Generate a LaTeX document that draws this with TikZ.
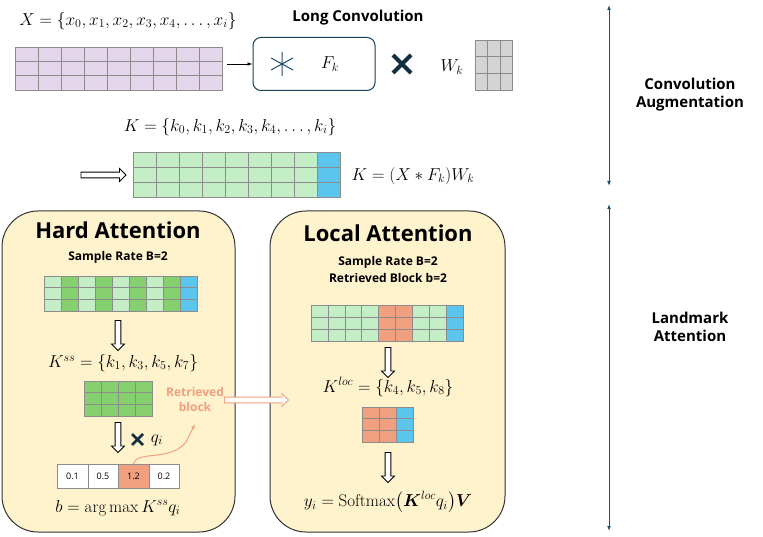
\documentclass[tikz,border=0pt]{standalone}
\usepackage{fontspec}
\usepackage{amsmath}
\newfontfamily\lbl{Open Sans}
\usetikzlibrary{shapes.arrows,arrows.meta}
\definecolor{purp}{HTML}{E4D6EB}
\definecolor{lg}{HTML}{C4EEC6}
\definecolor{dg}{HTML}{86D06F}
\definecolor{bl}{HTML}{5BC5EE}
\definecolor{org}{HTML}{F0A07E}
\definecolor{gr}{HTML}{D4D4D4}
\definecolor{pan}{HTML}{FFF3CE}
\definecolor{teal}{HTML}{1F4E6B}
\definecolor{gline}{HTML}{8C8C8C}
\newcommand{\gridbox}[7]{%
 \foreach \c [count=\i from 0] in {#7} {%
  \foreach \r in {1,...,#6} {%
   \draw[gline, line width=0.6pt, fill=\c] ({#1+\i*#3},{#2+(\r-1)*#4}) rectangle ++(#3,#4);}}}
\tikzset{
 hol/.style={single arrow, draw=black, fill=white, line width=0.8pt, minimum width=13pt, single arrow head extend=3pt, single arrow tip angle=90, inner sep=2pt},
 mth/.style={font=\fontsize{17}{20}\selectfont},
 bt/.style={font=\lbl\bfseries\fontsize{15}{18}\selectfont},
 tt/.style={font=\lbl\bfseries\fontsize{22}{26}\selectfont},
 st/.style={font=\lbl\bfseries\fontsize{12}{17}\selectfont},
 panel/.style={draw=black!80, line width=1pt, fill=pan, rounded corners=36pt},
 vax/.style={teal, line width=1pt, {Latex[length=5pt]}-{Latex[length=5pt]}}
}
\begin{document}
\begin{tikzpicture}[x=1pt,y=-1pt]
\useasboundingbox (0,0) rectangle (763,537);
% top
\node[mth] (xs) at (128,21) {$X=\{x_0,x_1,x_2,x_3,x_4,\ldots,x_i\}$};
\gridbox{15}{47}{23}{14.3}{9}{3}{purp,purp,purp,purp,purp,purp,purp,purp,purp}
\coordinate (xg) at (227,64);
\node[bt] (lc) at (358,18) {Long Convolution};
\node[draw=teal!80!black, line width=1pt, rounded corners=8pt, minimum width=122pt, minimum height=53pt] (conv) at (314,64) {};
\draw[-{Latex[length=5pt]}, line width=0.8pt] (xg) -- (conv.west);
\node (ast) at (282,64) {};
\draw[teal, line width=1pt] (282,52) -- (282,76) (271,58) -- (293,70) (271,70) -- (293,58);
\node[mth] (fk) at (330,64) {$F_k$};
\node (times1) at (402,64) {};
\draw[teal!60!black, line width=4pt] (393,55) -- (411,73) (393,73) -- (411,55);
\node[mth] (wk) at (452,67) {$W_k$};
\gridbox{475}{40}{12.4}{16.7}{3}{3}{gr,gr,gr}
\node[mth] (ks) at (230,127) {$K=\{k_0,k_1,k_2,k_3,k_4,\ldots,k_i\}$};
\node[hol, minimum height=45pt] (ar0) at (102,175) {};
\gridbox{133}{152}{23}{15}{9}{3}{lg,lg,lg,lg,lg,lg,lg,lg,bl}
\node[mth] (kf) at (413,176) {$K=(X*F_k)W_k$};
\node (t1a) at (609,5) {}; \node (t1b) at (609,186) {};
\draw[vax] (t1a.center) -- (t1b.center);
\node[bt, align=center] (ca) at (690,95) {Convolution\\Augmentation};
\node (t2a) at (609,204) {}; \node (t2b) at (609,531) {};
\draw[vax] (t2a.center) -- (t2b.center);
\node[bt, align=center] (la) at (690,327) {Landmark\\Attention};
% Hard attention panel
\draw[panel] (2,211) rectangle (235,532);
\node[tt] (ha) at (118,230) {Hard Attention};
\node[st] (sr1) at (118,257) {Sample Rate B=2};
\gridbox{44}{276}{17}{11.7}{9}{3}{lg,dg,lg,dg,lg,dg,lg,dg,bl}
\node[hol, rotate=-90, minimum height=30pt] (a1) at (118,334) {};
\node[mth] (kss) at (123,363) {$K^{ss}=\{k_1,k_3,k_5,k_7\}$};
\gridbox{84}{381}{17}{11.7}{4}{3}{dg,dg,dg,dg}
\node[hol, rotate=-90, minimum height=30pt] (a2) at (118,436) {};
\draw[teal!60!black, line width=2.5pt] (132,434) -- (143,445) (132,445) -- (143,434);
\node[mth] (qi) at (157,440) {$q_i$};
\foreach \v/\c [count=\i from 0] in {0.1/white,0.5/white,1.2/org,0.2/white}
  \node[draw=gline, fill=\c, minimum width=30.5pt, minimum height=24pt, inner sep=0pt, font=\lbl\small, anchor=north west] (v\i) at ({57+\i*30.5},464) {\v};
\node[mth] (bf) at (118,508) {$b=\arg\max K^{ss}q_i$};
% Local attention panel
\draw[panel] (270,211) rectangle (505,532);
\node[tt] (loc) at (388,233) {Local Attention};
\node[st, align=center] (sr2) at (388,270) {Sample Rate B=2\\Retrieved Block b=2};
\gridbox{311}{305}{16.9}{12}{9}{3}{lg,lg,lg,lg,org,org,lg,lg,bl}
\node[hol, rotate=-90, minimum height=30pt] (a3) at (388,361) {};
\node[mth] (kl) at (388,387) {$K^{loc}=\{k_4,k_5,k_8\}$};
\gridbox{362}{407}{17}{11.7}{3}{3}{org,org,bl}
\node[hol, rotate=-90, minimum height=30pt] (a4) at (388,466) {};
\node[mth] (yi) at (388,502) {$y_i=\mathrm{Softmax}\big(\boldsymbol{K}^{loc}q_i\big)\boldsymbol{V}$};
% retrieved block
\node[font=\lbl\bfseries\fontsize{12}{15}\selectfont, text=org, align=center] (rb) at (195,399) {Retrieved\\block};
\draw[org, line width=1pt, -{Latex[length=5pt]}] (v2.north) .. controls (137,450) and (170,462) .. (186,442) -- (195,424);
\node[single arrow, draw=org, fill=white, line width=0.8pt, minimum width=13pt, single arrow head extend=3pt, single arrow tip angle=90, minimum height=64pt, inner sep=2pt] (ar2) at (255,400) {};
\end{tikzpicture}
\end{document}
